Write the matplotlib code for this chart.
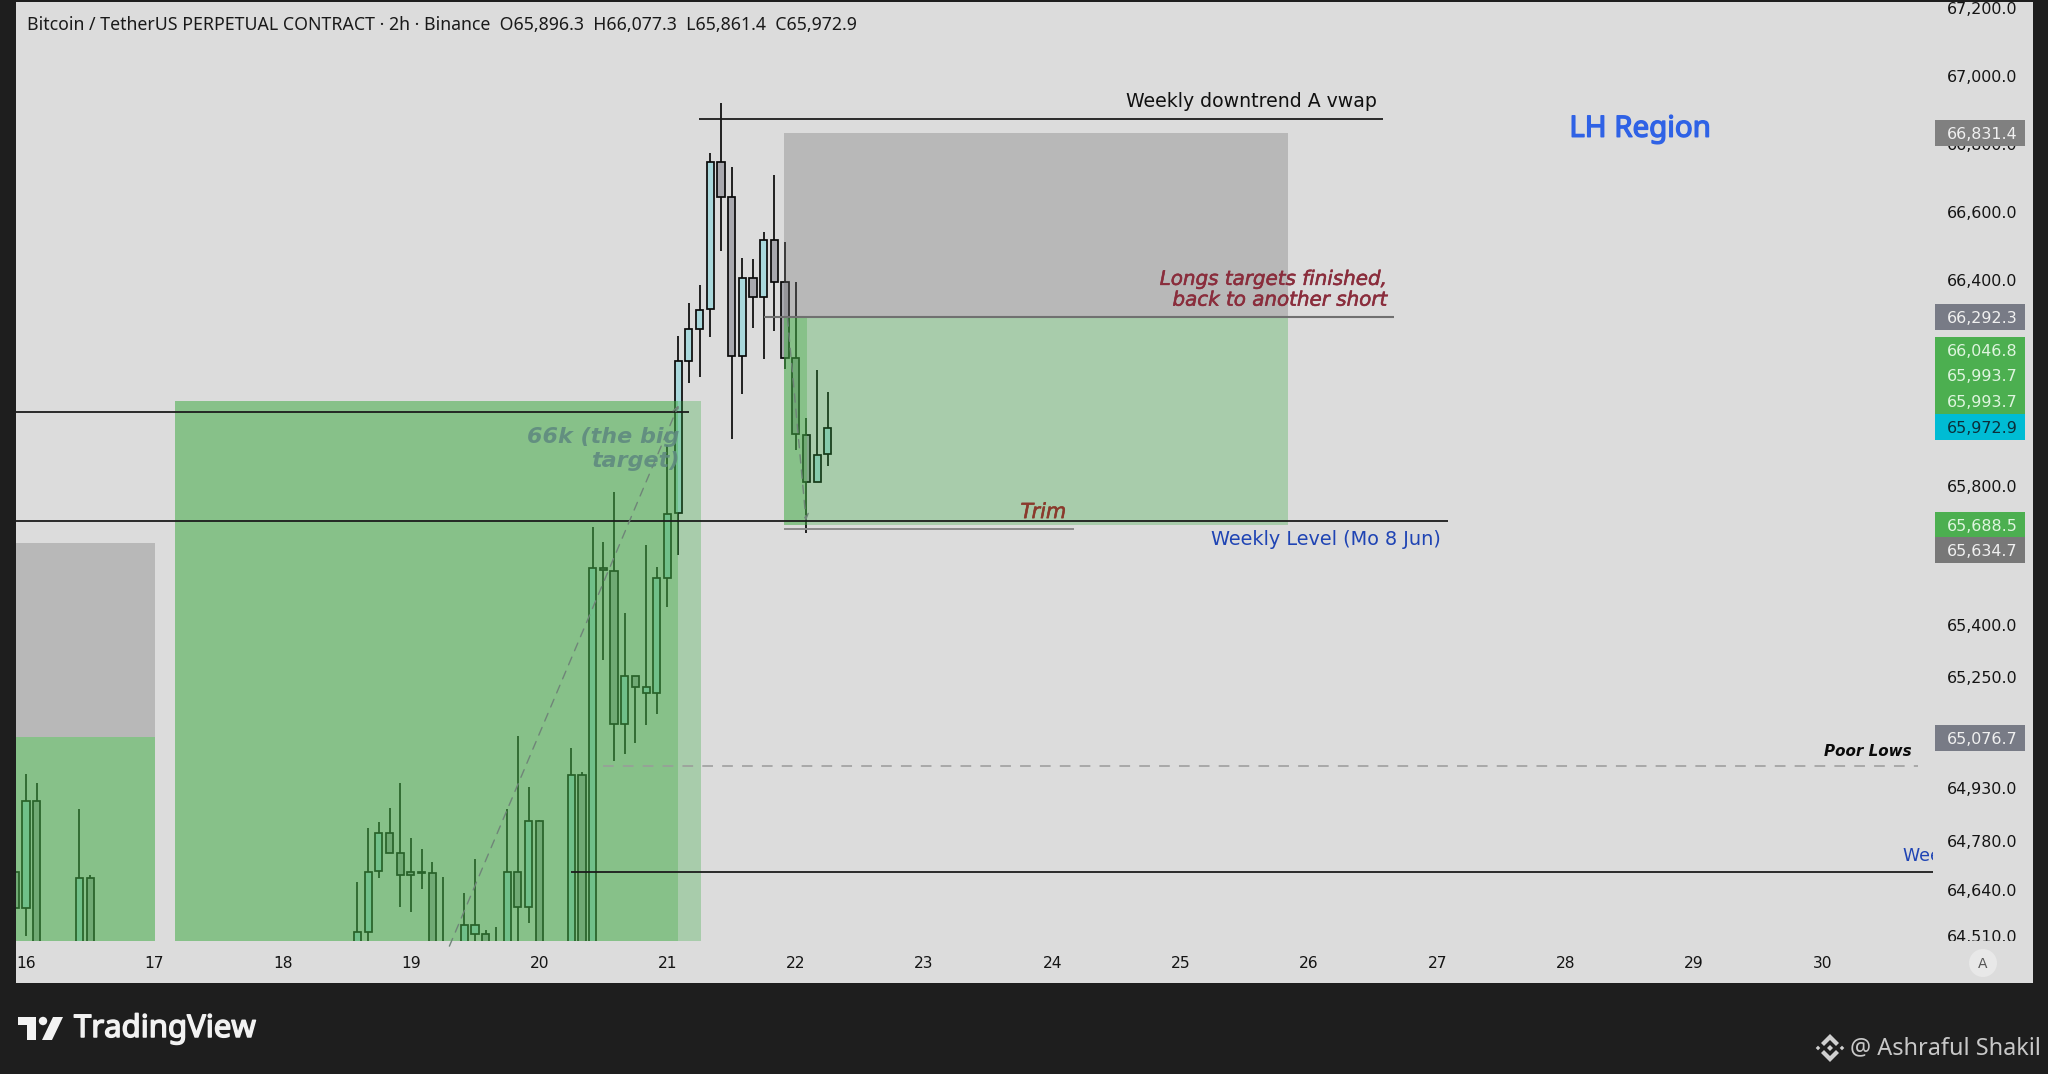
import matplotlib
matplotlib.use("Agg")
import numpy as np
import matplotlib.pyplot as plt
import matplotlib.patheffects as pe
from matplotlib.patches import Rectangle, Circle, Polygon
from matplotlib.transforms import Affine2D, Bbox
from matplotlib.ticker import NullLocator

W, H = 2048, 1074

# ---------- data ----------
days = list(range(16, 31))
price_ticks = [67200, 67000, 66800, 66600, 66400, 65800, 65400, 65250, 64930, 64780, 64640, 64510]

candle_idx = [-1, 0, 1, 5, 6, 31, 32, 33, 34, 35, 36, 37, 38, 39, 41, 42, 43, 44, 45, 46, 47, 48,
              51, 52, 53, 54, 55, 56, 57, 58, 59, 60, 61, 62, 63, 64, 65, 66, 67, 68, 69, 70, 71, 72, 73, 74, 75]
opens = [64691, 64588, 64894, 64400, 64674, 64400, 64520, 64694, 64802, 64745, 64691, 64691, 64688, 64400,
         64400, 64515, 64515, 64400, 64400, 64691, 64591, 64836,
         64400, 64968, 64400, 65563, 65554, 65114, 65252, 65203, 65203, 65534, 65722, 66164, 66257, 66316,
         66747, 66644, 66178, 66406, 66351, 66517, 66395, 66173, 65948, 65812, 65893]
highs = [64691, 64971, 64945, 64871, 64682, 64662, 64816, 64834, 64874, 64945, 64788, 64756, 64719, 64677,
         64631, 64728, 64526, 64534, 64871, 65080, 64934, 64839,
         65045, 64977, 65682, 65638, 65783, 65433, 65252, 65630, 65566, 65919, 66237, 66333, 66386, 66773,
         66920, 66732, 66465, 66462, 66541, 66708, 66512, 66395, 65998, 66138, 66074]
lows = [64588, 64509, 64400, 64400, 64400, 64400, 64400, 64674, 64745, 64591, 64577, 64643, 64400, 64400,
        64400, 64400, 64400, 64400, 64400, 64400, 64546, 64400,
        64400, 64400, 64400, 65298, 65008, 65028, 65060, 65111, 65143, 65451, 65601, 66100, 66117, 66234,
        66485, 65937, 66068, 66260, 66170, 66251, 66141, 65905, 65664, 65812, 65858]
closes = [64588, 64894, 64400, 64674, 64400, 64520, 64691, 64802, 64745, 64682, 64682, 64688, 64400, 64400,
          64540, 64540, 64400, 64400, 64691, 64591, 64836, 64400,
          64968, 64400, 65563, 65557, 65114, 65252, 65220, 65220, 65534, 65719, 66164, 66257, 66313, 66747,
          66644, 66178, 66406, 66351, 66517, 66395, 66173, 65951, 65812, 65890, 65969]

label_texts = ["66,831.4", "66,292.3", "66,046.8", "65,993.7", "65,993.7", "65,972.9", "65,688.5", "65,634.7", "65,076.7"]
label_colors = ["#808080", "#787b86", "#4caf50", "#4caf50", "#4caf50", "#00bcd4", "#4caf50", "#787878", "#787b86"]
label_tcolors = ["#f0f0f0", "#f0f0f0", "#dff5df", "#dff5df", "#dff5df", "#0b2f3a", "#dff5df", "#f0f0f0", "#f0f0f0"]
label_centers = [133, 317, 350, 375, 401, 427, 525, 550, 738]

header = "Bitcoin / TetherUS PERPETUAL CONTRACT \u00b7 2h \u00b7 Binance  O65,896.3  H66,077.3  L65,861.4  C65,972.9"

# ---------- style ----------
DARK = "#1e1e1e"
PANEL = "#dcdcdc"
UP_FILL = "#a9d8dc"
DOWN_FILL = "#a8a8ae"
GREEN_L = (50/255, 170/255, 60/255, 0.30)
GREEN_D = (75/255, 174/255, 74/255, 0.35)
GRAY_Z = (112/255, 112/255, 112/255, 0.33)
LINE = "#1c1c1c"
GLINE = "#8a8a8a"

def heavy(col, w=0.7):
    return [pe.withStroke(linewidth=w, foreground=col)]

fig = plt.figure(figsize=(W/100, H/100), dpi=100, facecolor=DARK)
T = Affine2D().scale(1, -1).translate(0, H)

fig.add_artist(Rectangle((16, 2), 2033-16, 983-2, transform=T, facecolor=PANEL, edgecolor="none", zorder=-5))

ax = fig.add_axes([16/W, (H-941)/H, (1933-16)/W, (941-2)/H], facecolor=PANEL)
for s in ax.spines.values():
    s.set_visible(False)
ax.set_yscale("log")
ax.set_xlim(15.922, 30.864)
ax.set_ylim(64494.6, 67218.9)
ax.yaxis.set_minor_locator(NullLocator())
ax.yaxis.tick_right()
ax.set_yticks(price_ticks)
ax.set_yticklabels([f"{p:,.1f}" for p in price_ticks])
ax.yaxis.set_minor_locator(NullLocator())
ax.set_xticks(days)
ax.set_xticklabels([str(d) for d in days])
ax.tick_params(axis="y", length=0, pad=10.0, labelsize=11.4, labelcolor="#141414")
ax.tick_params(axis="x", length=0, pad=10.8, labelsize=11.2, labelcolor="#141414")
clip = Bbox([[1934, H-941], [2033, H-2]])
for lb in ax.get_yticklabels():
    lb.set_clip_on(True)
    lb.set_clip_box(clip)

# ---------- candles ----------
x = 16 + np.array(candle_idx) / 12
o, h_, l, c = map(np.array, (opens, highs, lows, closes))
up = c >= o
ax.vlines(x, l, h_, color="#0a0a0a", lw=1.25, zorder=2)
ax.bar(x, np.abs(c-o), bottom=np.minimum(o, c), width=0.056,
       color=[UP_FILL if u else DOWN_FILL for u in up], edgecolor="#0a0a0a", linewidth=1.25, zorder=2.1)

# ---------- zones ----------
def zone(x0, x1, y0, y1, col):
    ax.add_patch(Rectangle((x0, y0), x1-x0, y1-y0, facecolor=col, edgecolor="none", zorder=3))

zone(15.5, 17.005, 65076.7, 65634.7, GRAY_Z)
zone(15.5, 17.005, 64300, 65076.7, GREEN_L)
zone(15.5, 17.005, 64300, 65076.7, GREEN_D)
zone(17.16, 21.26, 64300, 66046.8, GREEN_L)
zone(17.16, 21.084, 64300, 66046.8, GREEN_D)
zone(21.91, 25.836, 66292.3, 66831.4, GRAY_Z)
zone(21.91, 25.836, 65688.5, 66292.3, GREEN_L)
zone(21.91, 22.085, 65688.5, 66292.3, GREEN_D)

# ---------- lines ----------
ax.hlines(66873, 21.245, 26.577, color=LINE, lw=1.3, zorder=4)
ax.hlines(66015, 15.9, 21.168, color=LINE, lw=1.3, zorder=4)
ax.hlines(65699, 15.9, 27.083, color=LINE, lw=1.3, zorder=4)
ax.hlines(64692, 20.248, 30.864, color=LINE, lw=1.3, zorder=4)
ax.hlines(66292.3, 21.752, 26.663, color="#707070", lw=1.5, zorder=4)
ax.hlines(65676, 21.91, 24.168, color=GLINE, lw=1.4, zorder=4)
ax.hlines(64995, 20.497, 30.747, color="#9a9a9a", lw=1.1, linestyles=(0, (7, 6)), zorder=4)

ax.annotate("", xy=(21.086, 66035), xytext=(19.3, 64480), zorder=4, annotation_clip=False,
            arrowprops=dict(arrowstyle="->", color="#6f8578", lw=1.0, linestyle=(0, (6, 5)), shrinkA=0, shrinkB=0))
ax.annotate("", xy=(22.08, 65700), xytext=(21.935, 66290), zorder=4,
            arrowprops=dict(arrowstyle="->", color="#6f8578", lw=1.0, linestyle=(0, (6, 5)), shrinkA=0, shrinkB=0))

# ---------- annotations ----------
ax.text(26.53, 66924, "Weekly downtrend A vwap", ha="right", va="center", fontsize=13.6, color="#111111", zorder=5)
ax.text(28.58, 66843, "LH Region", ha="center", va="center", fontsize=21.2, color="#2f62e6", fontfamily="Noto Sans",
        path_effects=heavy("#2f62e6", 1.0), zorder=5)
ax.text(26.61, 66372, "Longs targets finished,\nback to another short", ha="right", va="center", fontsize=14.3,
        color="#8a2d3c", style="oblique", linespacing=1.12, path_effects=heavy("#8a2d3c", 0.4), zorder=5)
ax.text(23.93, 65725, "Trim", ha="center", va="center", fontsize=15, color="#8a3a2c", style="oblique",
        path_effects=heavy("#8a3a2c", 0.4), zorder=5)
ax.text(27.03, 65647, "Weekly Level (Mo 8 Jun)", ha="right", va="center", fontsize=13.9, color="#1f44b4", zorder=5)
ax.text(21.09, 65908, "66k (the big\ntarget)", ha="right", va="center", fontsize=16, color="#5f8a80",
        style="oblique", fontweight="bold", linespacing=1.3, alpha=0.9, zorder=5)
ax.text(30.70, 65035, "Poor Lows", ha="right", va="center", fontsize=10.9, color="#0a0a0a",
        style="oblique", fontweight="bold", zorder=5)
ax.text(30.63, 64736, "Weekly Level", ha="left", va="center", fontsize=12.5, color="#1f44b4", clip_on=True, zorder=5)

# ---------- header ----------
fig.text(27, 24.5, header, transform=T, ha="left", va="center", fontsize=12.76, color="#1a1a1a",
         fontfamily="Noto Sans", zorder=6)

# ---------- price labels ----------
for txt, col, tc, yc in zip(label_texts, label_colors, label_tcolors, label_centers):
    fig.add_artist(Rectangle((1935, yc-12.8), 90, 25.6, transform=T, facecolor=col, edgecolor="none", zorder=8))
for txt, col, tc, yc in zip(label_texts, label_colors, label_tcolors, label_centers):
    fig.text(1947, yc, txt, transform=T, ha="left", va="center_baseline", fontsize=11.4, color=tc, zorder=9)

# ---------- auto scale button ----------
fig.add_artist(Circle((1983, 963), 14, transform=T, facecolor="#e8e8e8", edgecolor="none", zorder=6))
fig.text(1983, 964, "A", transform=T, ha="center", va="center", fontsize=10, color="#555555", zorder=7)

# ---------- TradingView logo ----------
fig.add_artist(Polygon([(18, 1017), (36, 1017), (36, 1040), (27, 1040), (27, 1025), (18, 1025)], closed=True,
                       transform=T, facecolor="#f2f2f2", edgecolor="none", zorder=6))
fig.add_artist(Circle((43, 1021), 4.2, transform=T, facecolor="#f2f2f2", edgecolor="none", zorder=6))
fig.add_artist(Polygon([(53, 1017), (63, 1017), (52, 1040), (42, 1040)], closed=True,
                       transform=T, facecolor="#f2f2f2", edgecolor="none", zorder=6))
fig.text(74, 1029, "TradingView", transform=T, ha="left", va="center", fontsize=22.4, color="#f2f2f2",
         fontfamily="Noto Sans", path_effects=heavy("#f2f2f2", 1.1), zorder=6)

# ---------- watermark ----------
cx, cy = 1830, 1048
ICON = "#cfcfcf"
fig.add_artist(Polygon([(cx, cy-14), (cx+9, cy-5), (cx+6, cy-2), (cx, cy-8), (cx-6, cy-2), (cx-9, cy-5)], closed=True,
                       transform=T, facecolor=ICON, edgecolor="none", zorder=6))
fig.add_artist(Polygon([(cx, cy+14), (cx+9, cy+5), (cx+6, cy+2), (cx, cy+8), (cx-6, cy+2), (cx-9, cy+5)], closed=True,
                       transform=T, facecolor=ICON, edgecolor="none", zorder=6))
for dx, r in [(-12, 2.3), (12, 2.3), (0, 3.0)]:
    pts = [(cx+dx, cy-r), (cx+dx+r, cy), (cx+dx, cy+r), (cx+dx-r, cy)]
    fig.add_artist(Polygon(pts, closed=True, transform=T, facecolor=ICON, edgecolor="none", zorder=6))
fig.text(1850, 1048, "@ Ashraful Shakil", transform=T, ha="left", va="center", fontsize=16.9, color="#c8c8c8",
         fontfamily="Noto Sans", zorder=6)

fig.savefig("out.png", dpi=100, facecolor=DARK)
